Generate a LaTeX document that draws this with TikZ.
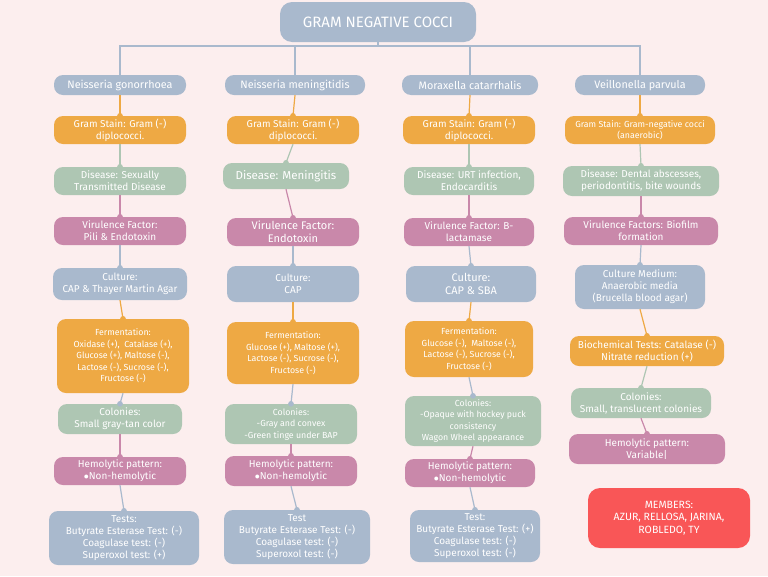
\documentclass[tikz,border=0pt]{standalone}
\usepackage{fontspec}
\setmainfont{Fira Sans}
\definecolor{bg}{HTML}{FCEEEE}
\definecolor{cb}{HTML}{A9B9CD}
\definecolor{co}{HTML}{EEA944}
\definecolor{cg}{HTML}{AEC6B3}
\definecolor{cp}{HTML}{C988AA}
\definecolor{cr}{HTML}{F95657}
\tikzset{
 bx/.style={rounded corners=9pt,text=white,align=center,inner sep=1pt,font=\fontsize{10}{12}\selectfont},
 sm/.style={font=\fontsize{8.8}{11.5}\selectfont},
 lk/.style={line width=1.2pt},
}
\newcommand\bx[7]{\node[bx,fill=#2,minimum width=#5pt,minimum height=#6pt] (#1) at (#3,#4) {#7};}
\newcommand\lk[3]{\draw[lk,#3] (#1.south) -- (#2.north); \fill[#3] (#2.north) circle (2.8pt);}
\begin{document}
\begin{tikzpicture}[x=1pt,y=-1pt]
\fill[bg] (0,0) rectangle (768,576);
\useasboundingbox (0,0) rectangle (768,576);
\node[bx,fill=cb,minimum width=196pt,minimum height=40pt,rounded corners=12pt,font=\fontsize{15}{17}\selectfont] (t) at (378,22) {GRAM NEGATIVE COCCI};
\node[bx,fill=cb,minimum width=132pt,minimum height=20pt,font=\fontsize{10.8}{12}\selectfont] (a0) at (120,85) {Neisseria gonorrhoea};
\node[bx,fill=cb,minimum width=140pt,minimum height=20pt,font=\fontsize{10.8}{12}\selectfont] (b0) at (295,85) {Neisseria meningitidis};
\node[bx,fill=cb,minimum width=136pt,minimum height=20pt,font=\fontsize{10.8}{12}\selectfont] (c0) at (470,85) {Moraxella catarrhalis};
\node[bx,fill=cb,minimum width=130pt,minimum height=20pt,font=\fontsize{10.8}{12}\selectfont] (d0) at (640,85) {Veillonella parvula};
% col1
\bx{a1}{co}{120}{130}{132}{28}{Gram Stain: Gram (-)\\diplococci.}
\bx{a2}{cg}{120}{181}{132}{28}{Disease: Sexually\\Transmitted Disease}
\bx{a3}{cp}{120}{231}{132}{28}{Virulence Factor:\\Pili \& Endotoxin}
\bx{a4}{cb}{120}{284}{134}{32}{Culture:\\CAP \& Thayer Martin Agar}
\node[bx,sm,fill=co,minimum width=132pt,minimum height=74pt] (a5) at (123,356) {Fermentation:\\Oxidase (+),\ \ Catalase (+),\\Glucose (+), Maltose (-),\\Lactose (-), Sucrose (-),\\Fructose (-)};
\bx{a6}{cg}{120}{419}{124}{30}{Colonies:\\Small gray-tan color}
\bx{a7}{cp}{120}{471}{132}{28}{Hemolytic pattern:\\$\bullet$Non-hemolytic}
\bx{a8}{cb}{124}{538}{150}{54}{Tests:\\Butyrate Esterase Test: (-)\\Coagulase test: (-)\\Superoxol test: (+)}
% col2
\bx{b1}{co}{293}{130}{132}{28}{Gram Stain: Gram (-)\\diplococci.}
\node[bx,fill=cg,minimum width=126pt,minimum height=26pt,font=\fontsize{11.5}{13}\selectfont] (b2) at (286,176) {Disease: Meningitis};
\node[bx,fill=cp,minimum width=132pt,minimum height=28pt,font=\fontsize{11}{12.5}\selectfont] (b3) at (293,232) {Virulence Factor:\\Endotoxin};
\bx{b4}{cb}{293}{284}{132}{36}{Culture:\\CAP}
\node[bx,sm,fill=co,minimum width=132pt,minimum height=62pt] (b5) at (293,353) {Fermentation:\\Glucose (+), Maltose (+),\\Lactose (-), Sucrose (-),\\Fructose (-)};
\node[bx,sm,fill=cg,minimum width=132pt,minimum height=40pt] (b6) at (291,424) {Colonies:\\-Gray and convex\\-Green tinge under BAP};
\bx{b7}{cp}{291}{471}{132}{30}{Hemolytic pattern:\\$\bullet$Non-hemolytic}
\bx{b8}{cb}{297}{537}{146}{54}{Test\\Butyrate Esterase Test: (-)\\Coagulase test: (-)\\Superoxol test: (-)}
% col3
\bx{c1}{co}{469}{130}{132}{28}{Gram Stain: Gram (-)\\diplococci.}
\bx{c2}{cg}{469}{181}{130}{28}{Disease: URT infection,\\Endocarditis}
\bx{c3}{cp}{469}{232}{130}{28}{Virulence Factor: B-\\lactamase}
\node[bx,fill=cb,minimum width=130pt,minimum height=36pt,font=\fontsize{11}{12.5}\selectfont] (c4) at (471,284) {Culture:\\CAP \& SBA};
\node[bx,sm,fill=co,minimum width=128pt,minimum height=56pt] (c5) at (469,349) {Fermentation:\\Glucose (-),\ \ Maltose (-),\\Lactose (-), Sucrose (-),\\Fructose (-)};
\node[bx,sm,fill=cg,minimum width=136pt,minimum height=50pt] (c6) at (473,421) {Colonies:\\-Opaque with hockey puck\\consistency\\Wagon Wheel appearance};
\bx{c7}{cp}{470}{473}{130}{28}{Hemolytic pattern:\\$\bullet$Non-hemolytic}
\bx{c8}{cb}{475}{536}{130}{52}{Test:\\Butyrate Esterase Test: (+)\\Coagulase test: (-)\\Superoxol test: (-)}
% col4
\node[bx,sm,fill=co,minimum width=150pt,minimum height=28pt] (d1) at (640,130) {Gram Stain: Gram-negative cocci\\(anaerobic)};
\bx{d2}{cg}{641}{181}{156}{30}{Disease: Dental abscesses,\\periodontitis, bite wounds}
\bx{d3}{cp}{641}{231}{154}{28}{Virulence Factors: Biofilm\\formation}
\bx{d4}{cb}{640}{287}{130}{44}{Culture Medium:\\Anaerobic media\\(Brucella blood agar)}
\bx{d5}{co}{647}{351}{154}{30}{Biochemical Tests: Catalase (-)\\Nitrate reduction (+)}
\bx{d6}{cg}{641}{403}{140}{30}{Colonies:\\Small, translucent colonies}
\bx{d7}{cp}{647}{449}{156}{30}{Hemolytic pattern:\\Variable|}
\node[bx,fill=cr,minimum width=162pt,minimum height=60pt,rounded corners=12pt,font=\fontsize{10.5}{12.5}\selectfont] (m) at (669,518) {MEMBERS:\\AZUR, RELLOSA, JARINA,\\ROBLEDO, TY};
% connectors
\coordinate (h) at (378,46);
\draw[lk,cb] (t.south) -- (h);
\foreach \n in {a0,b0,c0,d0}{\draw[lk,cb] (h) -| (\n.north);}
\foreach \c in {a,b,c}{
 \lk{\c0}{\c1}{co}\lk{\c1}{\c2}{cg}\lk{\c2}{\c3}{cp}\lk{\c3}{\c4}{cb}
 \lk{\c4}{\c5}{co}\lk{\c5}{\c6}{cb}\lk{\c6}{\c7}{cp}\lk{\c7}{\c8}{cb}}
\lk{d0}{d1}{co}\lk{d1}{d2}{cg}\lk{d2}{d3}{cp}\lk{d3}{d4}{cb}
\lk{d4}{d5}{co}\lk{d5}{d6}{cg}\lk{d6}{d7}{cp}
\end{tikzpicture}
\end{document}
